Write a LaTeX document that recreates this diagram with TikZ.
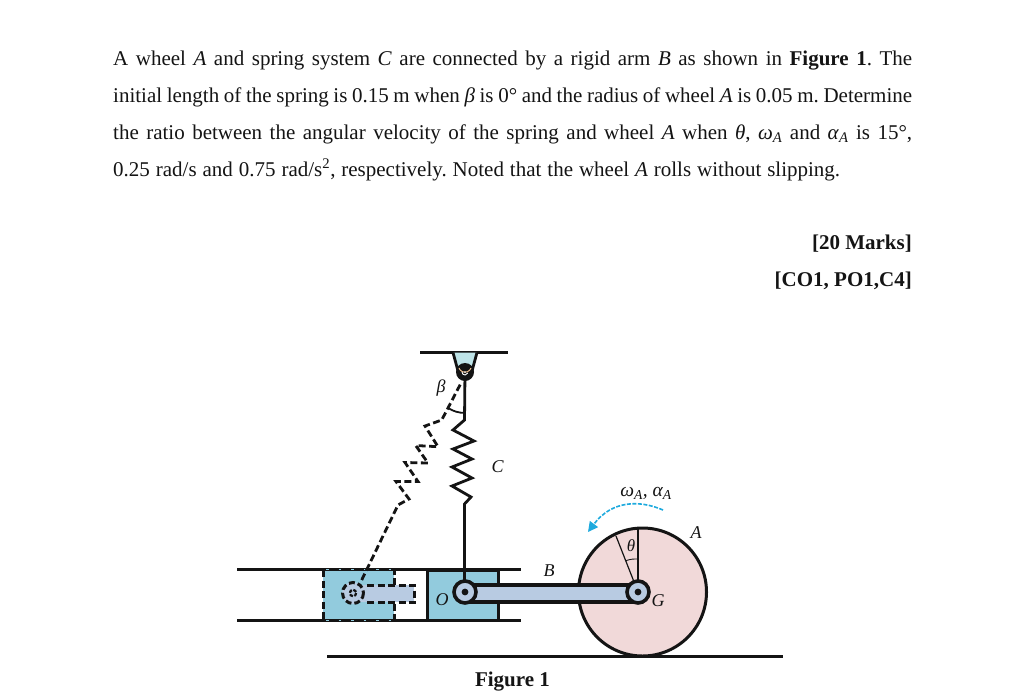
\documentclass[tikz,border=0pt]{standalone}
\usepackage{fontspec}
\setmainfont{Liberation Serif}
\usetikzlibrary{arrows.meta}
\definecolor{blk}{RGB}{20,20,20}
\definecolor{slider}{RGB}{146,203,221}
\definecolor{armfill}{RGB}{184,203,226}
\definecolor{wheelfill}{RGB}{241,217,217}
\definecolor{mountfill}{RGB}{190,228,232}
\definecolor{cyanarrow}{RGB}{30,170,222}
\tikzset{
 x=1pt,y=-1pt,
 textline/.style={anchor=base west,inner sep=0pt,font=\fontsize{21}{25}\selectfont,text=blk},
 boldline/.style={inner sep=0pt,font=\fontsize{21}{25}\selectfont\bfseries,text=blk},
 lab/.style={inner sep=0pt,font=\fontsize{18}{20}\selectfont\itshape,text=blk},
 solidline/.style={line width=2.8pt,draw=blk},
 dashline/.style={line width=2.8pt,draw=blk,dash pattern=on 7pt off 3.5pt},
}
\newcommand{\jline}[2][799pt]{\hbox to #1{#2}}
\frenchspacing
\begin{document}
\begin{tikzpicture}
\useasboundingbox (0,0) rectangle (1024,691);
\fill[white] (0,0) rectangle (1024,691);
% text
\node[textline] (l1) at (113,65) {\jline{A wheel \textit{A} and spring system \textit{C} are connected by a rigid arm \textit{B} as shown in \textbf{Figure 1}. The}};
\node[textline] (l2) at (113,102) {\jline{initial length of the spring is 0.15 m when \textit{β} is 0° and the radius of wheel \textit{A} is 0.05 m. Determine}};
\node[textline] (l3) at (113,139) {\jline{the ratio between the angular velocity of the spring and wheel \textit{A} when \textit{θ}, \textit{ω}\textsubscript{\textit{A}} and \textit{α}\textsubscript{\textit{A}} is 15°,}};
\node[textline] (l4) at (113,176) {\jline[727pt]{0.25 rad/s and 0.75 rad/s\textsuperscript{2}, respectively. Noted that the wheel \textit{A} rolls without slipping.}};
\node[boldline,anchor=base east] (m1) at (912,249) {[20 Marks]};
\node[boldline,anchor=base east] (m2) at (912,286) {[CO1, PO1,C4]};
\node[boldline,anchor=base] (fig) at (512.5,686.3) {Figure 1};
% ghost slider fill
\fill[slider] (323,570) rectangle (394,620.5);
\fill[white] (395,587) rectangle (416,600);
\fill[armfill] (360,585) rectangle (414,602);
% rails and ground
\draw[solidline] (237,569.5) -- (521,569.5);
\draw[solidline] (237,620.5) -- (521,620.5);
\draw[solidline] (327,656.5) -- (783,656.5);
\draw[solidline] (420,352.5) -- (508,352.5);
% ghost slider outline
\draw[dashline] (394.5,585) -- (394.5,570);
\draw[dashline] (323.5,570) -- (323.5,621);
\draw[dashline] (394.5,621) -- (394.5,601);
\draw[slider,line width=1.2pt,dash pattern=on 2.5pt off 10pt] (326,569.5) -- (392,569.5);
\draw[slider,line width=1.2pt,dash pattern=on 2.5pt off 10pt] (326,620.5) -- (392,620.5);
\draw[dashline] (367,585.5) -- (414.5,585.5) -- (414.5,602.5) -- (367,602.5);
% ghost spring and arm
\draw[dashline] (361.7,580) -- (398,505) -- (409,499) -- (396,481.5) -- (418,481.5) -- (405,462.5) -- (428,463) -- (415.7,445.5) -- (438,446.7) -- (425,426) -- (441.7,420) -- (448,408) -- (461.7,381.7);
% ghost pin
\fill[armfill] (353,593) circle (11);
\draw[dashline,dash pattern=on 6pt off 3pt,line width=3pt] (353,593) circle (10.5);
\draw[blk,line width=2.2pt,dash pattern=on 3.5pt off 1.5pt] (353,593) circle (3.2);
% real slider
\draw[solidline,line width=3pt,fill=slider] (427.5,570.5) rectangle (498.5,620.5);
% spring
\coordinate (pivot) at (465,372);
\coordinate (pin) at (465,592);
\draw[solidline,line join=miter] (pivot) -- (464.5,420) -- (453,430) -- (474,441) -- (453,449) -- (472,459) -- (452,467) -- (472,478) -- (452,486) -- (471,497) -- (464.5,504) -- (464.5,585);
\draw[line width=1.8pt,draw=blk] (448,408) to[bend right=14] (465,413);
% mount
\draw[solidline,fill=mountfill] (453,352.5) -- (458,371) -- (472,371) -- (477,352.5);
\fill[blk] (pivot) circle (9);
\draw[white!60!orange,line width=.9pt] (459,368) arc[start angle=160,end angle=20,radius=6.4];
\draw[white,line width=.9pt] (462,372) arc[start angle=180,end angle=20,radius=3];
\fill[white] (pivot) circle (.9);
% wheel
\coordinate (Gc) at (642.5,592);
\coordinate (G) at (638,592);
\draw[solidline,line width=3pt,fill=wheelfill] (Gc) circle (64);
\draw[line width=1.2pt,draw=blk] (G) -- (638,529);
\draw[line width=1.2pt,draw=blk] (G) -- (616,536);
\draw[line width=.9pt,draw=blk] (625.7,560.7) to[bend left=10] (638,559);
% arm
\draw[solidline,line width=3.2pt,fill=armfill] (465,585) rectangle (638,602);
\draw[solidline,line width=3.6pt,fill=armfill] (pin) circle (11);
\fill[blk] (pin) circle (3.4);
\draw[solidline,line width=3.6pt,fill=armfill] (G) circle (11);
\fill[blk] (G) circle (3.4);
% omega arrow
\draw[cyanarrow,line width=1.6pt,dash pattern=on 4pt off 1.5pt,-{Triangle[length=10pt,width=10pt]}] (663,510) .. controls (640,500) and (612,500) .. (588,532);
% labels
\node[lab] (lc) at (497.5,467) {C};
\node[lab] (lb) at (441,388) {β};
\node[lab] (lo) at (442,600) {O};
\node[lab] (lbb) at (549,570.5) {B};
\node[lab] (lg) at (658,601) {G};
\node[lab] (la) at (696,532.5) {A};
\node[lab,font=\fontsize{17}{18}\selectfont\itshape] (lt) at (631,546) {θ};
\node[lab,font=\fontsize{19.5}{20}\selectfont\itshape] (lw) at (646,493) {ω\textsubscript{A}, α\textsubscript{A}};
\end{tikzpicture}
\end{document}
